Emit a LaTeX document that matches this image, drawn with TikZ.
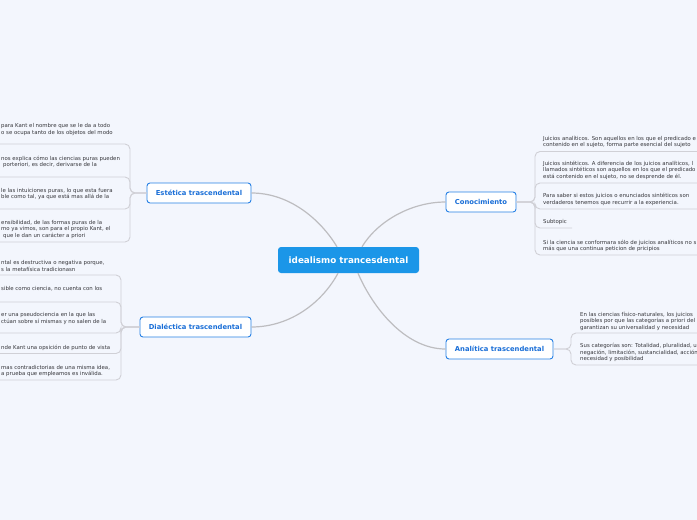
\documentclass[tikz,border=0pt]{standalone}
\usepackage{fontspec}
\setmainfont{DejaVu Sans}
\definecolor{bgc}{RGB}{243,246,253}
\definecolor{cblue}{RGB}{27,150,232}
\definecolor{bblue}{RGB}{38,128,229}
\definecolor{btext}{RGB}{25,110,215}
\definecolor{tgrey}{RGB}{55,55,60}
\definecolor{cgrey}{RGB}{189,189,192}
\definecolor{lgrey}{RGB}{208,208,214}
\tikzset{
  mainnode/.style={fill=cblue, text=white, font=\fontsize{8.8}{10}\selectfont\bfseries, rounded corners=3pt, minimum width=141pt, minimum height=26pt, inner sep=0pt},
  branch/.style={draw=bblue, line width=0.9pt, fill=white, text=btext, font=\fontsize{6.8}{8}\selectfont\bfseries, rounded corners=3pt, minimum height=20pt, inner sep=0pt},
  subtext/.style={text=tgrey, font=\fontsize{5.4}{6.5}\selectfont, inner sep=0pt, anchor=base west},
  conn/.style={draw=cgrey, line width=1.2pt},
  subline/.style={draw=lgrey, line width=0.9pt, rounded corners=5pt},
}
\begin{document}
\begin{tikzpicture}[x=1pt,y=-1pt]
\fill[bgc] (0,0) rectangle (697,520);
\useasboundingbox (0,0) rectangle (697,520);

% central and branch nodes
\node[mainnode] (c) at (348.5,260) {idealismo trancesdental};
\node[branch, minimum width=104pt] (est) at (199,193) {Estética trascendental};
\node[branch, minimum width=111pt] (dia) at (195.5,327) {Dialéctica trascendental};
\node[branch, minimum width=70pt] (con) at (481,202) {Conocimiento};
\node[branch, minimum width=107pt] (ana) at (499.5,349) {Analítica trascendental};

% main connectors
\draw[conn] (est.east) .. controls +(40,0) and +(-15,-25) .. ([xshift=-11.5pt]c.north);
\draw[conn] ([xshift=13.5pt]c.north) .. controls +(15,-25) and +(-35,0) .. (con.west);
\draw[conn] ([xshift=-10.5pt]c.south) .. controls +(-15,28) and +(40,0) .. (dia.east);
\draw[conn] ([xshift=9.5pt]c.south) .. controls +(15,35) and +(-40,0) .. (ana.west);

% Estetica subtopic lines
\foreach \yy [count=\i] in {144,177,209,242} {
  \coordinate (eu\i) at (-1,\yy);
  \draw[subline] (est.west) -| (130,\yy) -- (eu\i);
}
% Dialectica subtopic lines
\foreach \yy [count=\i] in {275,302,333,353.5,380} {
  \coordinate (du\i) at (-1,\yy);
  \draw[subline] (dia.west) -| (121,\yy) -- (du\i);
}
% Conocimiento subtopic lines
\foreach \yy/\xe [count=\i] in {151.5/699,183/699,209/699,228/572,255/699} {
  \coordinate (cu\i) at (\xe,\yy);
  \draw[subline] (con.east) -| (535,\yy) -- (cu\i);
}
% Analitica subtopic lines
\foreach \yy [count=\i] in {333,365} {
  \coordinate (au\i) at (699,\yy);
  \draw[subline] (ana.east) -| (571,\yy) -- (au\i);
}

% Estetica texts
\foreach \t [count=\i] in {{para Kant el nombre que se le da a todo},{o se ocupa tanto de los objetos del modo}}
  \node[subtext] (e1l\i) at (1,127.5+6.5*\i-6.5) {\t};
\foreach \t [count=\i] in {{nos explica cómo las ciencias puras pueden},{\hspace{2pt}porteriori, es decir, derivarse de la}}
  \node[subtext] (e2l\i) at (1,160+6.5*\i-6.5) {\t};
\foreach \t [count=\i] in {{le las intuiciones puras, lo que esta fuera},{ble como tal, ya que está mas allá de la}}
  \node[subtext] (e3l\i) at (1,192+6.5*\i-6.5) {\t};
\foreach \t [count=\i] in {{ensibilidad, de las formas puras de la},{mo ya vimos, son para el propio Kant, el},{\hspace{2pt}que le dan un carácter a priori}}
  \node[subtext] (e4l\i) at (1,224+6.5*\i-6.5) {\t};

% Dialectica texts
\foreach \t [count=\i] in {{ntal es destructiva o negativa porque,},{s la metafísica tradicionasn}}
  \node[subtext] (d1l\i) at (1,264.5+6.5*\i-6.5) {\t};
\node[subtext] (d2l1) at (1,290.5) {sible como ciencia, no cuenta con los};
\foreach \t [count=\i] in {{er una pseudociencia en la que las},{ctúan sobre sí mismas y no salen de la}}
  \node[subtext] (d3l\i) at (1,316.5+6.5*\i-6.5) {\t};
\node[subtext] (d4l1) at (1,349.5) {nde Kant una opsición de punto de vista};
\foreach \t [count=\i] in {{mas contradictorias de una misma idea,},{a prueba que empleamos es inválida.}}
  \node[subtext] (d5l\i) at (1,369+6.5*\i-6.5) {\t};

% Conocimiento texts
\foreach \t [count=\i] in {{Juicios analíticos. Son aquellos en los que el predicado e},{contenido en el sujeto, forma parte esencial del sujeto}}
  \node[subtext] (c1l\i) at (543,140+6.5*\i-6.5) {\t};
\foreach \t [count=\i] in {{Juicios sintéticos. A diferencia de los juicios analíticos, l},{llamados sintéticos son aquellos en los que el predicado},{está contenido en el sujeto, no se desprende de él.}}
  \node[subtext] (c2l\i) at (543,165+6.5*\i-6.5) {\t};
\foreach \t [count=\i] in {{Para saber si estos juicios o enunciados sintéticos son},{verdaderos tenemos que recurrir a la experiencia.}}
  \node[subtext] (c3l\i) at (543,197.5+6.5*\i-6.5) {\t};
\node[subtext] (c4l1) at (543,223.5) {Subtopic};
\foreach \t [count=\i] in {{Si la ciencia se conformara sólo de juicios analíticos no s},{más que una continua peticion de pricipios}}
  \node[subtext] (c5l\i) at (543,244+6.5*\i-6.5) {\t};

% Analitica texts
\foreach \t [count=\i] in {{En las ciencias físico-naturales, los juicios},{posibles por que las categorías a priori del},{garantizan su universalidad y necesidad}}
  \node[subtext] (a1l\i) at (580,316+6.5*\i-6.5) {\t};
\foreach \t [count=\i] in {{Sus categorías son: Totalidad, pluralidad, u},{negación, limitación, sustancialidad, acción},{necesidad y posibilidad}}
  \node[subtext] (a2l\i) at (580,347.5+6.5*\i-6.5) {\t};
\end{tikzpicture}
\end{document}
